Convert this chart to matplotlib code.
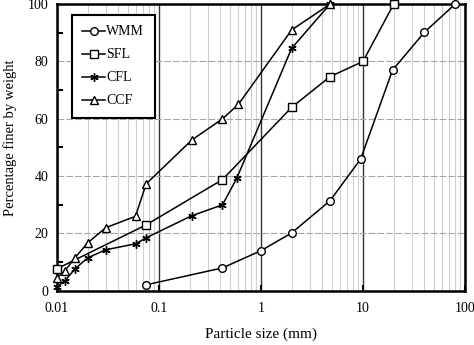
import matplotlib.pyplot as plt
from matplotlib.ticker import FixedLocator, NullFormatter

plt.rcParams["font.family"] = ["Liberation Serif", "DejaVu Serif"]

# Sieve data (particle size in mm, percentage finer)
wmm_size = [0.075, 0.42, 1.0, 2.0, 4.75, 9.5, 19.5, 40, 80]
wmm_pass = [2.1, 8.0, 14.0, 20.2, 31.4, 46.0, 77.0, 90.2, 100]

sfl_size = [0.01, 0.075, 0.42, 2.0, 4.75, 10, 20]
sfl_pass = [7.7, 23.0, 38.8, 64.0, 74.7, 80.0, 100]

cfl_size = [0.01, 0.012, 0.015, 0.02, 0.03, 0.059, 0.075, 0.21, 0.42, 0.58, 2.0, 4.75]
cfl_pass = [1.5, 3.5, 7.6, 11.5, 14.3, 16.4, 18.5, 26.2, 30.0, 39.3, 84.6, 100]

ccf_size = [0.01, 0.012, 0.015, 0.02, 0.03, 0.059, 0.075, 0.21, 0.42, 0.6, 2.0, 4.75]
ccf_pass = [4.5, 7.0, 11.5, 16.7, 22.0, 26.0, 37.3, 52.6, 60.0, 65.0, 91.0, 100]

fig = plt.figure(figsize=(4.74, 3.45), dpi=100)
ax = fig.add_axes([0.120, 0.157, 0.861, 0.831])

style = dict(color="black", lw=1.1, markerfacecolor="white",
             markeredgecolor="black", markeredgewidth=1.0, clip_on=False, zorder=3)
ax.plot(wmm_size, wmm_pass, marker="o", ms=5.5, label="WMM", **style)
ax.plot(sfl_size, sfl_pass, marker="s", ms=6, label="SFL", **style)
ax.plot(cfl_size, cfl_pass, marker=(6, 2, 0), ms=6, label="CFL", **style)
ax.plot(ccf_size, ccf_pass, marker="^", ms=6, label="CCF", **style)

ax.set_xscale("log")
ax.set_xlim(0.01, 100)
ax.set_ylim(0, 100)

ax.set_xticks([0.01, 0.1, 1, 10, 100])
ax.set_xticklabels(["0.01", "0.1", "1", "10", "100"])
ax.xaxis.set_minor_formatter(NullFormatter())
ax.set_yticks([0, 20, 40, 60, 80, 100])
ax.yaxis.set_minor_locator(FixedLocator([10, 30, 50, 70, 90]))

ax.grid(True, which="minor", axis="x", color="#cfcfcf", lw=0.8)
ax.grid(True, which="major", axis="x", color="#333333", lw=1.0)
ax.grid(True, which="major", axis="y", color="#a5a5a5", lw=0.8, ls=(0, (6, 2)))
ax.set_axisbelow(True)

ax.tick_params(axis="both", which="both", direction="in", labelsize=10)
ax.tick_params(axis="x", which="minor", length=0)
ax.tick_params(axis="x", which="major", length=4, width=1.5, pad=8)
ax.tick_params(axis="y", which="major", length=0, pad=6)
ax.tick_params(axis="y", which="minor", length=4, width=1.5)
for sp in ax.spines.values():
    sp.set_linewidth(1.8)

ax.set_xlabel("Particle size (mm)", fontsize=11, labelpad=9)
ax.set_ylabel("Percentage finer by weight", fontsize=10.5)
ax.yaxis.set_label_coords(-0.097, 0.535)

leg = ax.legend(loc="upper left", bbox_to_anchor=(0.037, 0.962),
                fontsize=10, frameon=True, fancybox=False, handlelength=1.6,
                handletextpad=0.12, labelspacing=0.72, borderpad=0.75,
                borderaxespad=0.0)
leg.get_frame().set_edgecolor("black")
leg.get_frame().set_linewidth(1.5)
leg.get_frame().set_alpha(1.0)

fig.savefig("out.png", dpi=100)
